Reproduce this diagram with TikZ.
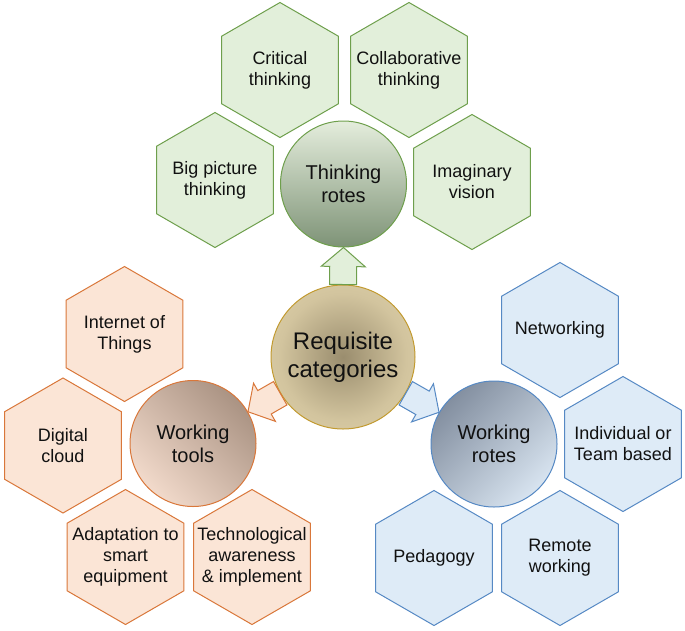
\documentclass[tikz,border=0pt]{standalone}
\usepackage{fontspec}
\setmainfont{Liberation Sans}
\usetikzlibrary{shapes.geometric,calc}
\definecolor{gfill}{HTML}{E2EFDA}
\definecolor{gdraw}{HTML}{6E9F4C}
\definecolor{ofill}{HTML}{FBE5D6}
\definecolor{odraw}{HTML}{D9773A}
\definecolor{bfill}{HTML}{DEEBF7}
\definecolor{bdraw}{HTML}{5689C4}
\definecolor{ydraw}{HTML}{C29A30}
\definecolor{gtop}{HTML}{E4EDDC}
\definecolor{gbot}{HTML}{7E9377}
\definecolor{odark}{HTML}{AA9383}
\definecolor{olight}{HTML}{F2DACB}
\definecolor{bdark}{HTML}{838FA0}
\definecolor{blight}{HTML}{D8E4F0}
\definecolor{yin}{HTML}{9A8D6E}
\definecolor{ymid}{HTML}{D2C49E}
\definecolor{yout}{HTML}{EEE1B7}
\definecolor{txt}{HTML}{111111}
\pgfdeclareradialshading{reqshade}{\pgfpoint{0bp}{0bp}}{color(0bp)=(yin); color(22bp)=(ymid); color(50bp)=(yout); color(100bp)=(yout)}
\begin{document}
\begin{tikzpicture}[x=1pt,y=-1pt,
  hex/.style={regular polygon, regular polygon sides=6, shape border rotate=30,
    minimum size=135pt, inner sep=0pt, line width=1pt},
  hexg/.style={hex, fill=gfill, draw=gdraw},
  hexo/.style={hex, fill=ofill, draw=odraw},
  hexb/.style={hex, fill=bfill, draw=bdraw},
  hext/.style={align=center, font=\fontsize{18}{21}\selectfont, text=txt, inner sep=0pt},
  circ/.style={circle, minimum size=126pt, inner sep=0pt, align=center,
    font=\fontsize{20}{23}\selectfont, text=txt, line width=1pt},
  arrg/.style={fill=gfill, draw=gdraw, line width=1pt, line join=miter},
  arro/.style={fill=ofill, draw=odraw, line width=1pt, line join=miter},
  arrb/.style={fill=bfill, draw=bdraw, line width=1pt, line join=miter},
]
\useasboundingbox (0,0) rectangle (685,630);

% Thinking group hexagons
\node[hexg] (ct) at (280,70) {};
\node[hext] (ctt) at (ct) {Critical\\thinking};
\node[hexg] (cot) at (409,70) {};
\node[hext] (cott) at (cot) {Collaborative\\thinking};
\node[hexg] (bp) at (215,180) {};
\node[hext] (bpt) at (bp) {Big picture\\thinking};
\node[hexg] (iv) at (472,182) {};
\node[hext] (ivt) at (iv) {Imaginary\\vision};

% Working tools hexagons
\node[hexo] (iot) at (124.5,334) {};
\node[hext] (iott) at (iot) {Internet of\\Things};
\node[hexo] (dc) at (63,445.5) {};
\node[hext] (dct) at (dc) {Digital\\cloud};
\node[hexo] (ad) at (125.5,557) {};
\node[hext] (adt) at (ad) {Adaptation to\\smart\\equipment};
\node[hexo] (te) at (252,557) {};
\node[hext] (tet) at (te) {Technological\\awareness\\\& implement};

% Working rotes hexagons
\node[hexb] (nw) at (560,330) {};
\node[hext] (nwt) at (nw) {Networking};
\node[hexb] (it) at (623,444) {};
\node[hext] (itt) at (it) {Individual or\\Team based};
\node[hexb] (pe) at (434,558) {};
\node[hext] (pet) at (pe) {Pedagogy};
\node[hexb] (rw) at (560,558) {};
\node[hext] (rwt) at (rw) {Remote\\working};

% Circles
\node[circ, draw=gdraw, top color=gtop, bottom color=gbot] (thk) at (343.5,184) {Thinking\\rotes};
\node[circ, draw=odraw, top color=odark, bottom color=olight, shading angle=-45] (wt) at (193,443.5) {Working\\tools};
\node[circ, draw=bdraw, top color=bdark, bottom color=blight, shading angle=45] (wr) at (494,444) {Working\\rotes};
\node[circ, minimum size=144pt, draw=ydraw, shading=reqshade,
  font=\fontsize{24}{28}\selectfont] (req) at (343,357) {Requisite\\categories};

% Block arrows
\coordinate (s1) at (req.north);
\coordinate (t1) at (thk.south);
\coordinate (s2) at (req.210);
\coordinate (t2) at (wt.30);
\coordinate (s3) at (req.-30);
\coordinate (t3) at (wr.150);
\foreach \i/\st in {1/arrg,2/arro,3/arrb}{
  \coordinate (h\i) at ($(t\i)!19pt!(s\i)$);
  \draw[\st] ($(s\i)!13.5pt!90:(t\i)$) -- ($(h\i)!13.5pt!90:(t\i)$)
    -- ($(h\i)!22pt!90:(t\i)$) -- (t\i) -- ($(h\i)!22pt!-90:(t\i)$)
    -- ($(h\i)!13.5pt!-90:(t\i)$) -- ($(s\i)!13.5pt!-90:(t\i)$) -- cycle;
}
\end{tikzpicture}
\end{document}
